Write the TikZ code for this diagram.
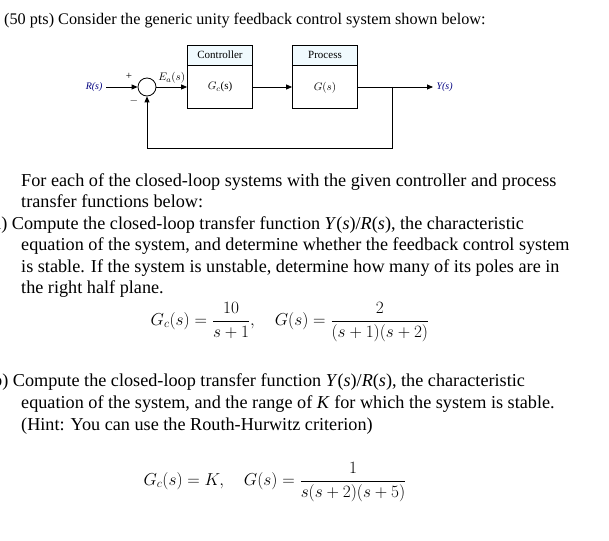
\documentclass[tikz,border=0pt]{standalone}
\usepackage{amsmath}
\usepackage{fontspec}
\setmainfont{Liberation Serif}
\usetikzlibrary{arrows.meta}
\begin{document}
\begin{tikzpicture}[x=1pt,y=-1pt,
  blk/.style={draw,thick,minimum width=65pt,minimum height=43pt,font=\fontsize{11}{12}\selectfont},
  hdr/.style={draw,thick,fill=cyan!6,minimum width=65pt,minimum height=20pt,font=\fontsize{11}{12}\selectfont},
  sig/.style={thick,-{Triangle[length=6pt,width=5pt]}},
  txt/.style={anchor=base west,font=\fontsize{18.2}{22}\selectfont,inner sep=0pt},
  eq/.style={font=\fontsize{17}{20}\selectfont,inner sep=0pt}]
\clip (0,0) rectangle (609,540);
\fill[white] (0,0) rectangle (609,540);
\node[anchor=base west,inner sep=0pt,font=\fontsize{16.2}{18}\selectfont] (title) at (4,25) {(50 pts) Consider the generic unity feedback control system shown below:};
% diagram
\node[hdr] (ch) at (220,55) {Controller};
\node[blk,anchor=north] (c) at (ch.south) {$G_c$(s)};
\node[hdr] (ph) at (325,55) {Process};
\node[blk,anchor=north] (p) at (ph.south) {$G(s)$};
\node[draw,thick,circle,minimum size=18pt,inner sep=0pt] (sum) at (147,87) {};
\node[font=\fontsize{10}{10}\selectfont\itshape,text=blue!50!black,anchor=east] (r) at (106,87) {R(s)};
\node[font=\fontsize{10}{10}\selectfont\itshape,text=blue!50!black,anchor=west] (y) at (433,87) {Y(s)};
\coordinate (br) at (392,87);
\coordinate (fb1) at (392,148);
\coordinate (fb2) at (147,148);
\draw[sig] (r) -- (sum);
\draw[sig] (sum) -- (c.west |- sum) node[midway,above,font=\fontsize{11}{12}\selectfont] {$E_a(s)$};
\draw[sig] (c.east |- sum) -- (p.west |- sum);
\draw[sig] (p.east |- sum) -- (y);
\draw[sig] (br) -- (fb1) -- (fb2) -- (sum);
\node[font=\fontsize{11}{10}\selectfont] (plus) at (129,76) {+};
\node[font=\fontsize{11}{10}\selectfont] (minus) at (134,101) {$-$};
% text
\node[txt] (t1) at (21,186) {For each of the closed-loop systems with the given controller and process};
\node[txt] (t2) at (21,207) {transfer functions below:};
\node[txt] (a1) at (-7,229) {a)\ Compute the closed-loop transfer function \textit{Y}(\textit{s})/\textit{R}(\textit{s}), the characteristic};
\node[txt] (a2) at (21,250) {equation of the system, and determine whether the feedback control system};
\node[txt] (a3) at (21,272) {is stable. If the system is unstable, determine how many of its poles are in};
\node[txt] (a4) at (21,293) {the right half plane.};
\node[eq] (ea) at (290,322) {$G_c(s)=\dfrac{10}{s+1},\quad G(s)=\dfrac{2}{(s+1)(s+2)}$};
\node[txt] (b1) at (-7,386) {b)\ Compute the closed-loop transfer function \textit{Y}(\textit{s})/\textit{R}(\textit{s}), the characteristic};
\node[txt] (b2) at (21,408) {equation of the system, and the range of \textit{K} for which the system is stable.};
\node[txt] (b3) at (21,430) {(Hint: You can use the Routh-Hurwitz criterion)};
\node[eq] (eb) at (275,482) {$G_c(s)=K,\quad G(s)=\dfrac{1}{s(s+2)(s+5)}$};
\end{tikzpicture}
\end{document}
